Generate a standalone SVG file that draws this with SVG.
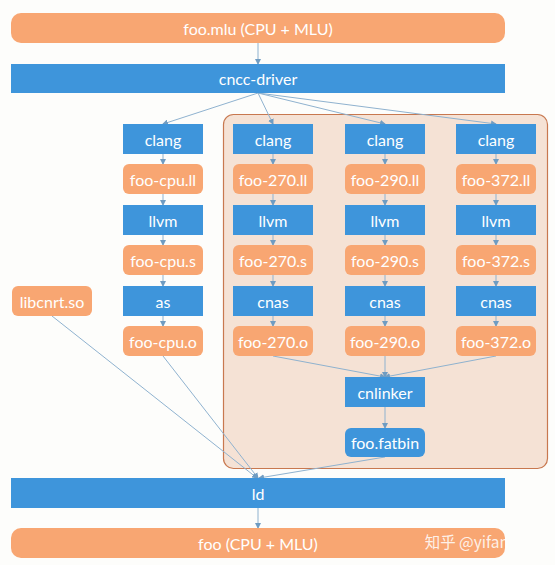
<svg xmlns="http://www.w3.org/2000/svg" width="555" height="565" viewBox="0 0 555 565">
<defs>
<marker id="ah" viewBox="0 0 6 6" refX="5" refY="3" markerWidth="6" markerHeight="6" orient="auto" markerUnits="userSpaceOnUse">
<path d="M0,0 L6,3 L0,6 z" fill="#6f9cc2"/>
</marker>
<style>
.o{fill:#f8a672}
.b{fill:#3e95db}
.t{fill:#ffffff;font-family:Lato,"Open Sans","Liberation Sans",sans-serif;font-size:16px;text-anchor:middle;dominant-baseline:central}
.c{stroke:#8fb2cf;stroke-width:1;fill:none;marker-end:url(#ah)}
</style>
</defs>
<rect width="555" height="565" fill="#fdfdfb"/>
<g id="container"><rect x="223.5" y="114.5" width="324" height="354" rx="10" fill="#f5e2d5" stroke="#c8784f" stroke-width="1.2"/></g>
<g id="connectors">
<line class="c" x1="258" y1="43" x2="258" y2="64"/>
<line class="c" x1="258" y1="93" x2="163" y2="124"/>
<line class="c" x1="258" y1="93" x2="273" y2="124"/>
<line class="c" x1="258" y1="93" x2="385" y2="124"/>
<line class="c" x1="258" y1="93" x2="496" y2="124"/>
<line class="c" x1="163" y1="154" x2="163" y2="164"/>
<line class="c" x1="163" y1="194" x2="163" y2="205"/>
<line class="c" x1="163" y1="235" x2="163" y2="245"/>
<line class="c" x1="163" y1="275" x2="163" y2="286"/>
<line class="c" x1="163" y1="316" x2="163" y2="326"/>
<line class="c" x1="273" y1="154" x2="273" y2="164"/>
<line class="c" x1="273" y1="194" x2="273" y2="205"/>
<line class="c" x1="273" y1="235" x2="273" y2="245"/>
<line class="c" x1="273" y1="275" x2="273" y2="286"/>
<line class="c" x1="273" y1="316" x2="273" y2="326"/>
<line class="c" x1="385" y1="154" x2="385" y2="164"/>
<line class="c" x1="385" y1="194" x2="385" y2="205"/>
<line class="c" x1="385" y1="235" x2="385" y2="245"/>
<line class="c" x1="385" y1="275" x2="385" y2="286"/>
<line class="c" x1="385" y1="316" x2="385" y2="326"/>
<line class="c" x1="496" y1="154" x2="496" y2="164"/>
<line class="c" x1="496" y1="194" x2="496" y2="205"/>
<line class="c" x1="496" y1="235" x2="496" y2="245"/>
<line class="c" x1="496" y1="275" x2="496" y2="286"/>
<line class="c" x1="496" y1="316" x2="496" y2="326"/>
<line class="c" x1="273" y1="356" x2="385" y2="377"/>
<line class="c" x1="385" y1="356" x2="385" y2="377"/>
<line class="c" x1="496" y1="356" x2="385" y2="377"/>
<line class="c" x1="385" y1="407" x2="385" y2="428"/>
<line class="c" x1="52" y1="316" x2="257" y2="478"/>
<line class="c" x1="163" y1="356" x2="258" y2="478"/>
<line class="c" x1="385" y1="457" x2="259" y2="478"/>
<line class="c" x1="258" y1="508" x2="258" y2="528"/>
</g>
<g id="n-mlu"><rect class="o" x="11" y="13" width="494" height="30" rx="10"/><text class="t" x="258" y="28">foo.mlu (CPU + MLU)</text></g>
<g id="n-driver"><rect class="b" x="11" y="64" width="494" height="29"/><text class="t" x="258" y="78.5">cncc-driver</text></g>
<g id="n-clang-cpu"><rect class="b" x="123" y="124" width="80" height="30"/><text class="t" x="163" y="139">clang</text></g>
<g id="n-ll-cpu"><rect class="o" x="123" y="164" width="80" height="30" rx="6"/><text class="t" x="163" y="179">foo-cpu.ll</text></g>
<g id="n-llvm-cpu"><rect class="b" x="123" y="205" width="80" height="30"/><text class="t" x="163" y="220">llvm</text></g>
<g id="n-s-cpu"><rect class="o" x="123" y="245" width="80" height="30" rx="6"/><text class="t" x="163" y="260">foo-cpu.s</text></g>
<g id="n-as"><rect class="b" x="123" y="286" width="80" height="30"/><text class="t" x="163" y="301">as</text></g>
<g id="n-o-cpu"><rect class="o" x="123" y="326" width="80" height="30" rx="6"/><text class="t" x="163" y="341">foo-cpu.o</text></g>
<g id="n-clang-270"><rect class="b" x="233" y="124" width="80" height="30"/><text class="t" x="273" y="139">clang</text></g>
<g id="n-ll-270"><rect class="o" x="233" y="164" width="80" height="30" rx="6"/><text class="t" x="273" y="179">foo-270.ll</text></g>
<g id="n-llvm-270"><rect class="b" x="233" y="205" width="80" height="30"/><text class="t" x="273" y="220">llvm</text></g>
<g id="n-s-270"><rect class="o" x="233" y="245" width="80" height="30" rx="6"/><text class="t" x="273" y="260">foo-270.s</text></g>
<g id="n-cnas-270"><rect class="b" x="233" y="286" width="80" height="30"/><text class="t" x="273" y="301">cnas</text></g>
<g id="n-o-270"><rect class="o" x="233" y="326" width="80" height="30" rx="6"/><text class="t" x="273" y="341">foo-270.o</text></g>
<g id="n-clang-290"><rect class="b" x="345" y="124" width="80" height="30"/><text class="t" x="385" y="139">clang</text></g>
<g id="n-ll-290"><rect class="o" x="345" y="164" width="80" height="30" rx="6"/><text class="t" x="385" y="179">foo-290.ll</text></g>
<g id="n-llvm-290"><rect class="b" x="345" y="205" width="80" height="30"/><text class="t" x="385" y="220">llvm</text></g>
<g id="n-s-290"><rect class="o" x="345" y="245" width="80" height="30" rx="6"/><text class="t" x="385" y="260">foo-290.s</text></g>
<g id="n-cnas-290"><rect class="b" x="345" y="286" width="80" height="30"/><text class="t" x="385" y="301">cnas</text></g>
<g id="n-o-290"><rect class="o" x="345" y="326" width="80" height="30" rx="6"/><text class="t" x="385" y="341">foo-290.o</text></g>
<g id="n-clang-372"><rect class="b" x="456" y="124" width="80" height="30"/><text class="t" x="496" y="139">clang</text></g>
<g id="n-ll-372"><rect class="o" x="456" y="164" width="80" height="30" rx="6"/><text class="t" x="496" y="179">foo-372.ll</text></g>
<g id="n-llvm-372"><rect class="b" x="456" y="205" width="80" height="30"/><text class="t" x="496" y="220">llvm</text></g>
<g id="n-s-372"><rect class="o" x="456" y="245" width="80" height="30" rx="6"/><text class="t" x="496" y="260">foo-372.s</text></g>
<g id="n-cnas-372"><rect class="b" x="456" y="286" width="80" height="30"/><text class="t" x="496" y="301">cnas</text></g>
<g id="n-o-372"><rect class="o" x="456" y="326" width="80" height="30" rx="6"/><text class="t" x="496" y="341">foo-372.o</text></g>
<g id="n-libcnrt"><rect class="o" x="12" y="286" width="80" height="30" rx="6"/><text class="t" x="52" y="301">libcnrt.so</text></g>
<g id="n-cnlinker"><rect class="b" x="345" y="377" width="80" height="30"/><text class="t" x="385" y="392">cnlinker</text></g>
<g id="n-fatbin"><rect class="b" x="345" y="428" width="80" height="29" rx="6"/><text class="t" x="385" y="442.5">foo.fatbin</text></g>
<g id="n-ld"><rect class="b" x="11" y="478" width="494" height="30"/><text class="t" x="258" y="493">ld</text></g>
<g id="n-foo"><rect class="o" x="11" y="528" width="494" height="30" rx="10"/><text class="t" x="258" y="543">foo (CPU + MLU)</text></g>
<text x="509" y="541" font-family="'Noto Sans CJK SC',sans-serif" font-size="15.5" fill="#ffffff" fill-opacity="0.85" text-anchor="end" dominant-baseline="central">知乎 @yifan</text>
</svg>
